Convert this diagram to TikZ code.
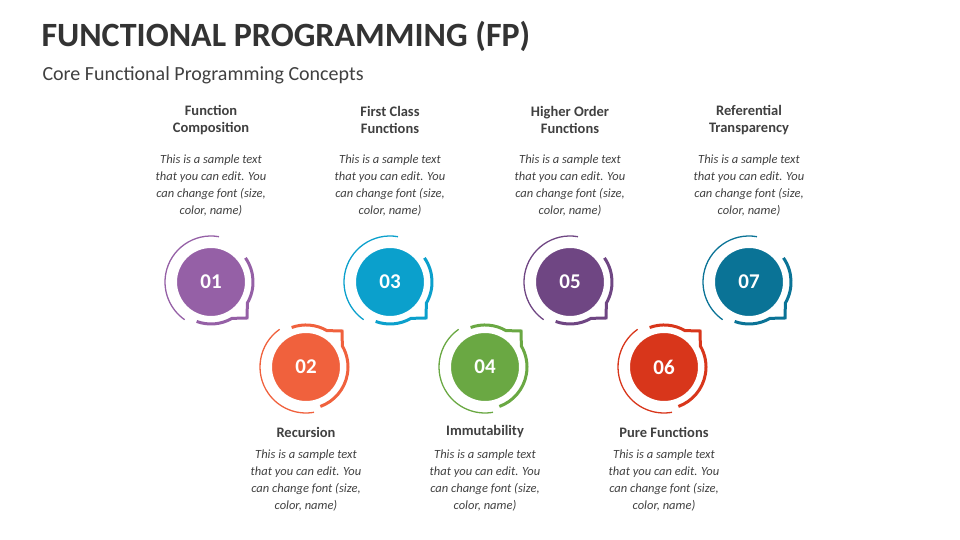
\documentclass[tikz,border=0pt]{standalone}
\usepackage{fontspec}
\setmainfont{Carlito}
\usetikzlibrary{calc}
\begin{document}
\begin{tikzpicture}[x=1pt,y=1pt,
  num/.style={font=\bfseries\fontsize{21}{21}\selectfont,text=white},
  ttl/.style={font=\bfseries\fontsize{14.5}{17.5}\selectfont,text=black!75,align=center},
  body/.style={font=\itshape\fontsize{12.5}{17}\selectfont,text=black!75,align=center}]
\useasboundingbox (0,0) rectangle (960,540);
\definecolor{c1}{HTML}{9560A6}\definecolor{c2}{HTML}{F0613D}
\definecolor{c3}{HTML}{0BA0CC}\definecolor{c4}{HTML}{6AA843}
\definecolor{c5}{HTML}{6F4683}\definecolor{c6}{HTML}{D8361B}
\definecolor{c7}{HTML}{0A7396}
\node[anchor=base west,font=\bfseries\fontsize{34}{34}\selectfont,text=black!80] (title) at (38,493) {FUNCTIONAL PROGRAMMING (FP)};
\node[anchor=base west,font=\fontsize{20}{20}\selectfont,text=black!75] (sub) at (39,459) {Core Functional Programming Concepts};
% top row
\foreach \x/\n/\c/\t in {211/01/c1/{Function\\Composition},390/03/c3/{First Class\\Functions},570/05/c5/{Higher Order\\Functions},749/07/c7/{Referential\\Transparency}}{
  \coordinate (p\n) at (\x,258);
  \fill[\c,draw=white,line width=2pt] (p\n) circle (35);
  \draw[\c,line width=1.3pt] (p\n) ++(80:46) arc(80:235:46);
  \draw[\c,line width=3pt,line join=miter] (p\n) ++(250:42) arc(250:300:42) -- ($(p\n)+(36,-36)$) -- ($(p\n)+(36.4,-21)$) arc(330:395:42);
  \node[num] (n\n) at (p\n) {\n};
  \node[ttl] (t\n) at (\x,420) {\t};
  \node[body] (b\n) at (\x,354) {This is a sample text\\that you can edit. You\\can change font (size,\\color, name)};
}
% bottom row
\foreach \x/\n/\c/\t in {306/02/c2/Recursion,485/04/c4/Immutability,664/06/c6/Pure Functions}{
  \coordinate (p\n) at (\x,173);
  \fill[\c,draw=white,line width=2pt] (p\n) circle (35);
  \draw[\c,line width=1.3pt] (p\n) ++(125:46) arc(125:280:46);
  \draw[\c,line width=3pt,line join=miter] (p\n) ++(290:42) arc(290:390:42) -- ($(p\n)+(36,36)$) -- ($(p\n)+(21,36.4)$) arc(60:110:42);
  \node[num] (n\n) at (p\n) {\n};
  \node[ttl] (t\n) at (\x,108) {\t};
  \node[body] (b\n) at (\x,59) {This is a sample text\\that you can edit. You\\can change font (size,\\color, name)};
}
\end{tikzpicture}
\end{document}
